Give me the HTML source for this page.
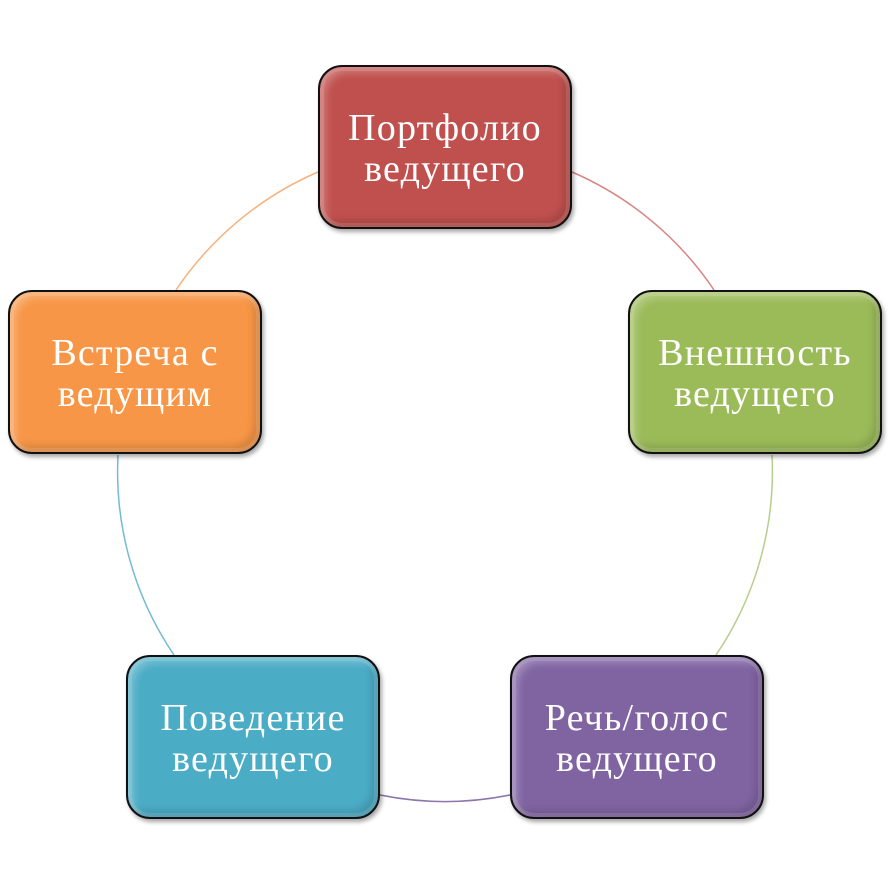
<!DOCTYPE html>
<html><head><meta charset="utf-8"><style>
body{margin:0;width:890px;height:896px;background:#fff;position:relative;overflow:hidden;font-family:"Liberation Serif",serif}
.b{position:absolute;width:254px;height:164px;border:2px solid #111;border-radius:24px;box-sizing:border-box;display:flex;align-items:center;justify-content:center;text-align:center;color:#fff;font-size:38px;letter-spacing:1.2px;line-height:41px;padding-top:4px;box-shadow:2px 3px 4px rgba(0,0,0,.35), inset 0 0 0 4px rgba(255,255,255,.12), inset 6px 6px 8px rgba(255,255,255,.25), inset -6px -6px 8px rgba(0,0,0,.15)}
svg{position:absolute;left:0;top:0}
</style></head><body>
<svg width="890" height="896">
<g fill="none" stroke-width="1.5">
<path d="M572 172 A327 327 0 0 1 714 290" stroke="#d88583"/>
<path d="M772 455 A327 327 0 0 1 716 655" stroke="#b5cf8b"/>
<path d="M510 795 A327 327 0 0 1 380 795" stroke="#8c76ab"/>
<path d="M174 655 A327 327 0 0 1 118 455" stroke="#72bcd0"/>
<path d="M176 290 A327 327 0 0 1 318 172" stroke="#f7b27c"/>
</g></svg>
<div class="b" style="left:318px;top:65px;background:#c0504d">Портфолио<br>ведущего</div>
<div class="b" style="left:628px;top:290px;background:#9bbb59">Внешность<br>ведущего</div>
<div class="b" style="left:510px;top:655px;background:#8064a2">Речь/голос<br>ведущего</div>
<div class="b" style="left:126px;top:655px;background:#4bacc6">Поведение<br>ведущего</div>
<div class="b" style="left:8px;top:290px;background:#f79646">Встреча с<br>ведущим</div>
</body></html>
